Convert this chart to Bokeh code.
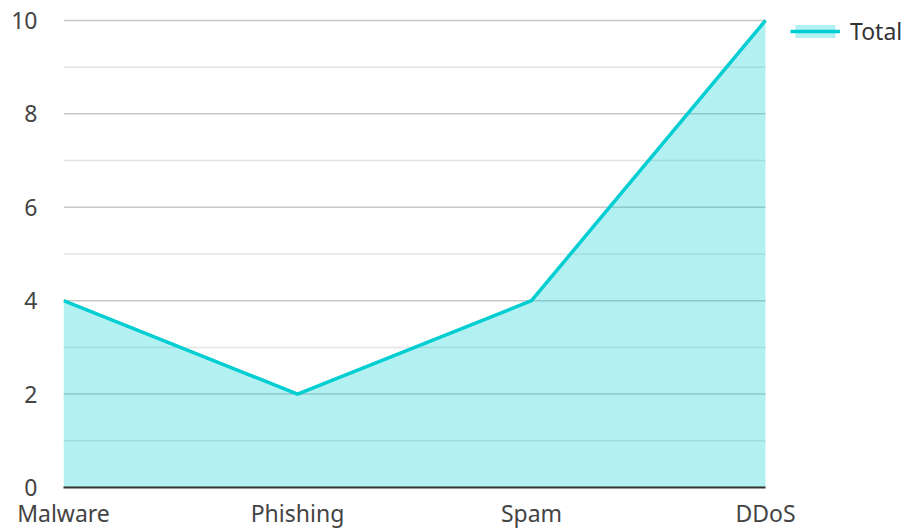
from bokeh.plotting import figure
from bokeh.models import FixedTicker, Legend, LegendItem, ColumnDataSource, Range1d
from bokeh.embed import file_html
from bokeh.resources import INLINE

categories = ["Malware", "Phishing", "Spam", "DDoS"]
totals = [4, 2, 4, 10]
y_ticks = [0, 2, 4, 6, 8, 10]
y_minor = [1, 3, 5, 7, 9]

FONT = "Noto Sans"
TEAL = "#00CED1"

xs = list(range(len(categories)))
x_last = xs[-1]
y_top = y_ticks[-1]
src = ColumnDataSource(dict(x=xs, y=totals, y0=[0] * len(xs)))

# The frame fills the canvas to the right and top so the legend can sit in it;
# the data span occupies 702 x 468 px.
W, H, LEFT, BOTTOM = 906, 531, 63, 43
RIGHT_STRIP, TOP_STRIP = 141, 20
plot_w = W - LEFT - RIGHT_STRIP
frame_h = H - BOTTOM
plot_h = frame_h - TOP_STRIP
x_end = x_last * (plot_w + RIGHT_STRIP) / plot_w
y_end = y_top * frame_h / plot_h

p = figure(width=W, height=H, output_backend="svg", toolbar_location=None,
           x_range=Range1d(0, x_end), y_range=Range1d(0, y_end),
           min_border_left=LEFT, min_border_right=0, min_border_top=0, min_border_bottom=BOTTOM)
p.outline_line_color = None

# grid lines limited to the data span
p.xgrid.grid_line_color = None
p.ygrid.grid_line_color = None
p.segment(x0=0, x1=x_last, y0=y_minor, y1=y_minor, line_color="#e4e4e4", line_width=1.5)
p.segment(x0=0, x1=x_last, y0=y_ticks, y1=y_ticks, line_color="#c8c8c8", line_width=1.5)

area = p.varea(x="x", y1="y0", y2="y", source=src, fill_color=TEAL, fill_alpha=0.3)
line = p.line(x="x", y="y", source=src, line_color=TEAL, line_width=3.5)

# axes
p.xaxis.ticker = FixedTicker(ticks=xs)
p.xaxis.bounds = (0, x_last)
p.xaxis.major_label_overrides = {i: c for i, c in enumerate(categories)}
p.xaxis.axis_line_color = "#333333"
p.xaxis.axis_line_width = 2
p.xaxis.major_label_standoff = 9
p.yaxis.ticker = FixedTicker(ticks=y_ticks)
p.yaxis.axis_line_color = None
p.yaxis.major_label_standoff = 26
for ax in (p.xaxis, p.yaxis):
    ax.major_tick_line_color = None
    ax.minor_tick_line_color = None
    ax.major_tick_out = 0
    ax.major_tick_in = 0
    ax.minor_tick_out = 0
    ax.minor_tick_in = 0
    ax.major_label_text_font = FONT
    ax.major_label_text_font_size = "23px"
    ax.major_label_text_color = "#444444"

legend = Legend(items=[LegendItem(label="Total", renderers=[area, line])],
                location=(plot_w + 25, frame_h - 48), orientation="vertical",
                border_line_color=None, background_fill_alpha=0,
                padding=0, margin=0, glyph_width=50, glyph_height=16,
                label_standoff=10, label_text_font=FONT, label_text_font_size="23px",
                label_text_color="#333333")
p.add_layout(legend)

open("out.html", "w").write(file_html(p, INLINE))
